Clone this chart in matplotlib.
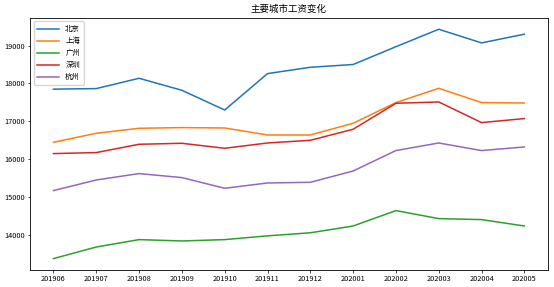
import matplotlib
matplotlib.use('Agg')
import matplotlib.pyplot as plt

plt.rcParams['font.family'] = ['Noto Sans CJK SC', 'DejaVu Sans']
plt.rcParams['axes.unicode_minus'] = False

months = ['201906', '201907', '201908', '201909', '201910', '201911',
          '201912', '202001', '202002', '202003', '202004', '202005']

beijing = [17850, 17865, 18137, 17820, 17300, 18260, 18427, 18500, 18970, 19430, 19070, 19300]
shanghai = [16449, 16686, 16818, 16836, 16826, 16641, 16641, 16950, 17496, 17873, 17496, 17485]
guangzhou = [13380, 13686, 13881, 13845, 13881, 13980, 14061, 14240, 14646, 14435, 14409, 14240]
shenzhen = [16150, 16177, 16396, 16422, 16290, 16430, 16501, 16792, 17478, 17512, 16968, 17074]
hangzhou = [15174, 15454, 15623, 15517, 15235, 15375, 15393, 15691, 16230, 16430, 16230, 16325]

fig = plt.figure(figsize=(5.54, 2.87), dpi=100)
ax = fig.add_axes([0.054, 0.059, 0.935, 0.879])

for name, vals in [('北京', beijing), ('上海', shanghai), ('广州', guangzhou),
                   ('深圳', shenzhen), ('杭州', hangzhou)]:
    ax.plot(months, vals, label=name, lw=1.1)

ax.set_title('主要城市工资变化', fontsize=6.8, pad=4)
ax.tick_params(labelsize=5.3, length=1.8, width=0.5, pad=2)
for s in ax.spines.values():
    s.set_linewidth(0.6)
ax.legend(loc='upper left', fontsize=5.3, handlelength=3, borderpad=0.5,
          labelspacing=0.55)

fig.savefig('out.png', dpi=100)
